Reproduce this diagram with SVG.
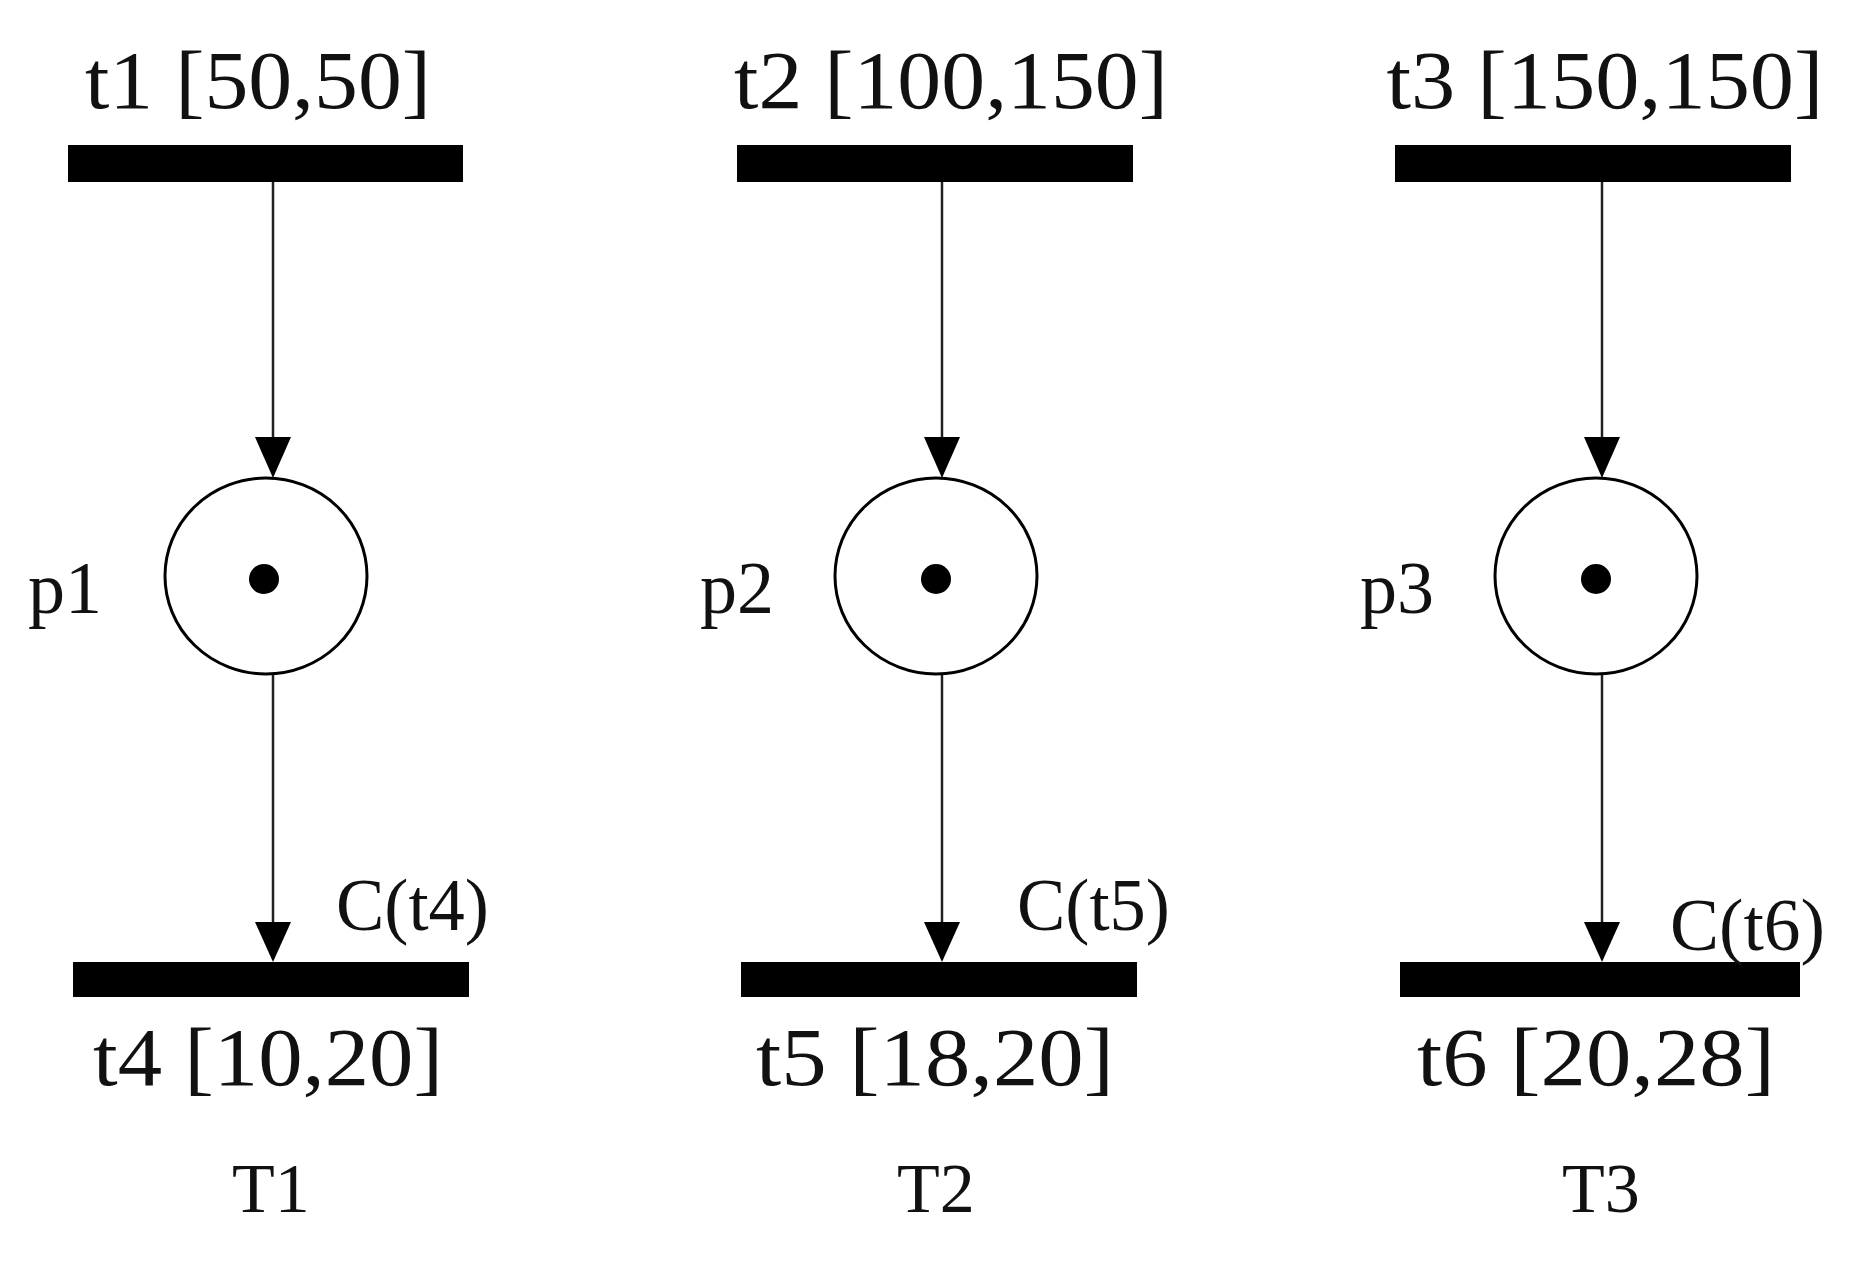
<svg xmlns="http://www.w3.org/2000/svg" width="1851" height="1262" viewBox="0 0 1851 1262">
<style>
text{font-family:"Liberation Serif","Times New Roman",serif;fill:#111;}
.lbl{font-size:82px;text-anchor:middle;}
.pl{font-size:74px;}
.T{font-size:70px;text-anchor:middle;}
.bar{fill:#000;}
.place{fill:#fff;stroke:#000;stroke-width:3;}
.arc{stroke:#222;stroke-width:2.5;fill:none;}
.ah{fill:#000;}
</style>
<rect width="1851" height="1262" fill="#fff"/>
<g id="connectors">
<line class="arc" x1="273" y1="182" x2="273" y2="440"/><polygon class="ah" points="255,437 291,437 273,478"/>
<line class="arc" x1="273" y1="673" x2="273" y2="925"/><polygon class="ah" points="255,922 291,922 273,962"/>
<line class="arc" x1="942" y1="182" x2="942" y2="440"/><polygon class="ah" points="924,437 960,437 942,478"/>
<line class="arc" x1="942" y1="673" x2="942" y2="925"/><polygon class="ah" points="924,922 960,922 942,962"/>
<line class="arc" x1="1602" y1="182" x2="1602" y2="440"/><polygon class="ah" points="1584,437 1620,437 1602,478"/>
<line class="arc" x1="1602" y1="673" x2="1602" y2="925"/><polygon class="ah" points="1584,922 1620,922 1602,962"/>
</g>
<g id="t1"><rect class="bar" x="68" y="145" width="395" height="37"/><text class="lbl" x="258" y="108" textLength="346" lengthAdjust="spacingAndGlyphs">t1 [50,50]</text></g>
<g id="t2"><rect class="bar" x="737" y="145" width="396" height="37"/><text class="lbl" x="951" y="108" textLength="434" lengthAdjust="spacingAndGlyphs">t2 [100,150]</text></g>
<g id="t3"><rect class="bar" x="1395" y="145" width="396" height="37"/><text class="lbl" x="1605" y="108" textLength="437" lengthAdjust="spacingAndGlyphs">t3 [150,150]</text></g>
<g id="p1"><ellipse class="place" cx="266" cy="576" rx="101" ry="98"/><circle cx="264" cy="579" r="15"/><text class="pl" x="28" y="613">p1</text></g>
<g id="p2"><ellipse class="place" cx="936" cy="576" rx="101" ry="98"/><circle cx="936" cy="579" r="15"/><text class="pl" x="700" y="613">p2</text></g>
<g id="p3"><ellipse class="place" cx="1596" cy="576" rx="101" ry="98"/><circle cx="1596" cy="579" r="15"/><text class="pl" x="1360" y="613">p3</text></g>
<g id="t4"><rect class="bar" x="73" y="962" width="396" height="35"/><text class="lbl" x="268" y="1085" textLength="350" lengthAdjust="spacingAndGlyphs">t4 [10,20]</text><text class="pl" x="336" y="930" textLength="153" lengthAdjust="spacingAndGlyphs">C(t4)</text></g>
<g id="t5"><rect class="bar" x="741" y="962" width="396" height="35"/><text class="lbl" x="935" y="1085" textLength="358" lengthAdjust="spacingAndGlyphs">t5 [18,20]</text><text class="pl" x="1017" y="930" textLength="153" lengthAdjust="spacingAndGlyphs">C(t5)</text></g>
<g id="t6"><rect class="bar" x="1400" y="962" width="400" height="35"/><text class="lbl" x="1596" y="1085" textLength="358" lengthAdjust="spacingAndGlyphs">t6 [20,28]</text><text class="pl" x="1670" y="950" textLength="155" lengthAdjust="spacingAndGlyphs">C(t6)</text></g>
<g id="labels"><text class="T" x="271" y="1212">T1</text><text class="T" x="936" y="1212">T2</text><text class="T" x="1601" y="1212">T3</text></g>
</svg>
